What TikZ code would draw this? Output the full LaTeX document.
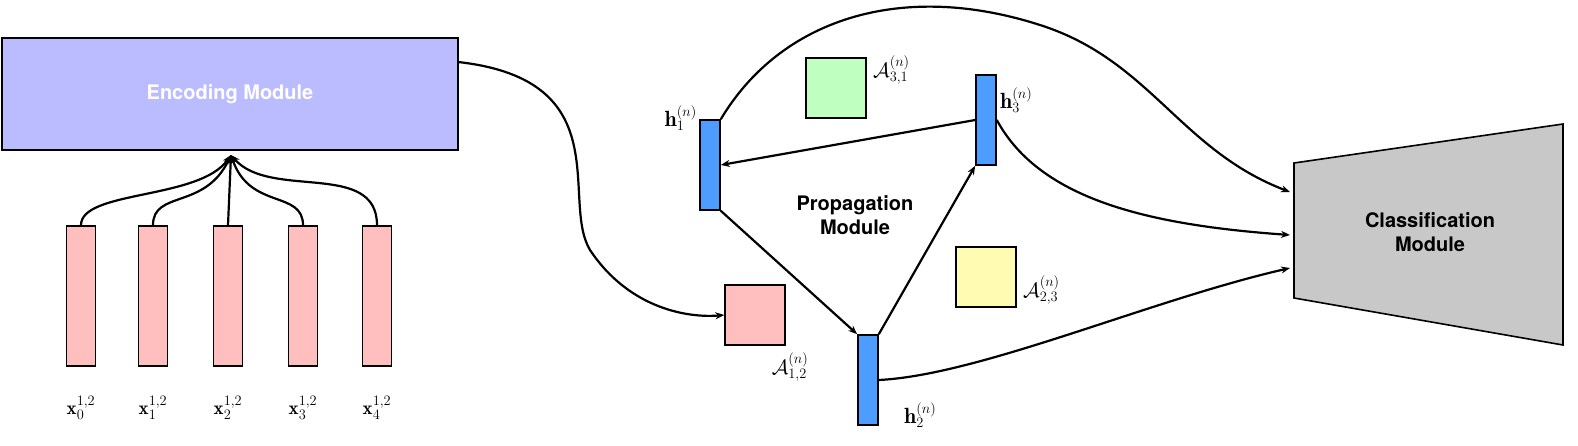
\documentclass[tikz,border=0pt]{standalone}
\usepackage{fontspec}
\newfontfamily\hv{TeX Gyre Heros}
\usetikzlibrary{arrows.meta}
\begin{document}
\begin{tikzpicture}[x=1pt,y=-1pt,
  ln/.style={line width=2.2pt},
  ar/.style={ln,-{Stealth[length=9pt,width=7pt]}},
  pinkbar/.style={draw,line width=1.6pt,fill=red!25!white,minimum width=29pt,minimum height=140pt,inner sep=0},
  bluebar/.style={draw,line width=1.6pt,fill=blue!55!cyan!70!white,minimum width=20pt,minimum height=90pt,inner sep=0},
  sq/.style={draw,line width=1.3pt,minimum width=60pt,minimum height=60pt,inner sep=0},
  lab/.style={font=\fontsize{22}{26}\selectfont,inner sep=1pt},
  bt/.style={font=\hv\bfseries\fontsize{20}{24}\selectfont,align=center}]
\useasboundingbox (0,0) rectangle (1578,445);
\node[draw,line width=1.6pt,fill={rgb,255:red,187;green,187;blue,255},minimum width=456pt,minimum height=112pt,inner sep=0,text=white,bt] (enc) at (230,94) {Encoding Module};
\coordinate (hub) at (231,155);
\foreach \i/\x in {0/81,1/153,2/228,3/303,4/377}{
  \node[pinkbar] (x\i) at (\x,296) {};
  \node[lab,font=\fontsize{19}{22}\selectfont] at (\x,408) {$\mathbf{x}_{\i}^{1,2}$};
}
\draw[ar] (x0.north) .. controls (81,190) and (200,200) .. (hub);
\draw[ar] (x1.north) .. controls (153,190) and (205,210) .. (hub);
\draw[ar] (x2.north) -- (hub);
\draw[ar] (x3.north) .. controls (303,190) and (250,210) .. (hub);
\draw[ar] (x4.north) .. controls (377,160) and (270,200) .. (hub);
\node[bluebar] (h1) at (710,165) {};
\node[bluebar] (h3) at (986,120) {};
\node[bluebar] (h2) at (868,380) {};
\node[lab,anchor=east] at (698,118) {$\mathbf{h}_1^{(n)}$};
\node[lab,anchor=west] at (999,100) {$\mathbf{h}_3^{(n)}$};
\node[lab,anchor=west] at (903,415) {$\mathbf{h}_2^{(n)}$};
\node[sq,fill=green!25!white] (a31) at (836,88) {};
\node[sq,fill=yellow!30!white] (a23) at (986,277) {};
\node[sq,fill=red!25!white] (a12) at (755,315) {};
\node[lab,anchor=west] at (872,70) {$\mathcal{A}_{3,1}^{(n)}$};
\node[lab,anchor=west] at (1022,290) {$\mathcal{A}_{2,3}^{(n)}$};
\node[lab] at (790,367) {$\mathcal{A}_{1,2}^{(n)}$};
\node[bt] (prop) at (855,215) {Propagation\\Module};
\draw[line width=1.6pt,fill={rgb,255:red,200;green,200;blue,200}] (1294,163) -- (1563,124) -- (1563,345) -- (1294,298) -- cycle;
\node[bt] (cls) at (1430,232) {Classification\\Module};
\coordinate (c1) at (1290,192);
\coordinate (c2) at (1290,235);
\coordinate (c3) at (1290,268);
\draw[ar] (458,62) .. controls (620,80) and (560,200) .. (590,250) .. controls (630,310) and (690,318) .. (a12.west);
\draw[ar] (h3.west) -- (h1.east);
\draw[ar] (h1.south east) -- (h2.north west);
\draw[ar] (h2.north east) -- (h3.south west);
\draw[ar] (h1.north east) .. controls (780,20) and (900,-20) .. (1040,25) .. controls (1150,60) and (1180,150) .. (c1);
\draw[ar] (h3.east) .. controls (1040,200) and (1150,225) .. (c2);
\draw[ar] (h2.east) .. controls (980,375) and (1150,300) .. (c3);
\end{tikzpicture}
\end{document}
